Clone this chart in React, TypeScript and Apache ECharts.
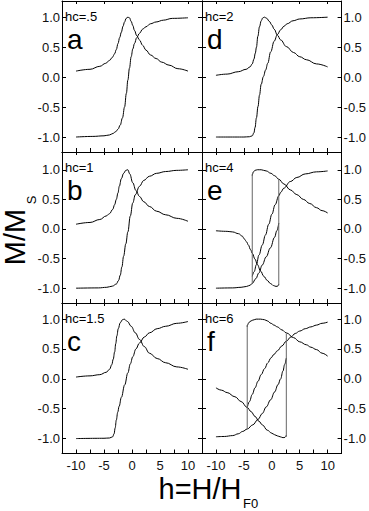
import React, { useEffect, useRef } from 'react';
import * as echarts from 'echarts';

const FONT = '"Liberation Sans", Arial, Helvetica, sans-serif';

// tick / label values
const X_TICKS = [-10, -7.5, -5, -2.5, 0, 2.5, 5, 7.5, 10];
const X_LABELS = [-10, -5, 0, 5, 10];
const Y_TICKS = [-1, -0.5, 0, 0.5, 1];

const PANEL_LETTERS = ['a', 'b', 'c', 'd', 'e', 'f'];
const HC_LABELS = ['hc=.5', 'hc=1', 'hc=1.5', 'hc=2', 'hc=4', 'hc=6'];

// panel a (hc = 0.5)
const aM = [[-10, -1], [-7, -0.99], [-5, -0.98], [-4, -0.965], [-3.4, -0.94], [-2.9, -0.91], [-2.5, -0.87], [-2.1, -0.8], [-1.7, -0.68], [-1.33, -0.5], [-1.0, -0.27], [-0.74, -0.05], [-0.45, 0.15], [-0.15, 0.34], [0.15, 0.47], [0.44, 0.56], [0.85, 0.66], [1.33, 0.73], [1.9, 0.8], [2.5, 0.84], [3.3, 0.89], [4.3, 0.92], [5.6, 0.95], [7.2, 0.98], [10, 0.99]];
const aP = [[-10, 0.1], [-7.5, 0.13], [-5.75, 0.18], [-4.7, 0.23], [-4, 0.28], [-3.5, 0.33], [-3.1, 0.39], [-2.8, 0.46], [-2.5, 0.56], [-2.2, 0.66], [-1.9, 0.75], [-1.6, 0.85], [-1.33, 0.92], [-1.05, 0.98], [-0.74, 1.0], [-0.45, 0.99], [-0.15, 0.93], [0.15, 0.86], [0.44, 0.78], [0.85, 0.69], [1.33, 0.62], [1.9, 0.53], [2.5, 0.45], [3.3, 0.37], [4.3, 0.31], [5.3, 0.25], [6.6, 0.2], [8.2, 0.14], [10, 0.1]];

// panel b (hc = 1)
const bM = [[-10, -1], [-6, -0.995], [-4.5, -0.985], [-3.5, -0.965], [-2.8, -0.93], [-2.4, -0.87], [-2.1, -0.78], [-1.8, -0.64], [-1.5, -0.46], [-1.1, -0.25], [-0.74, -0.05], [-0.3, 0.22], [0.14, 0.44], [0.6, 0.58], [1.33, 0.72], [2.1, 0.82], [3.1, 0.89], [4.4, 0.94], [6, 0.97], [8, 0.99], [10, 1]];
const bP = [[-10, 0.08], [-7.5, 0.11], [-5.75, 0.16], [-4.6, 0.22], [-4, 0.26], [-3.45, 0.33], [-3.1, 0.41], [-2.8, 0.5], [-2.5, 0.61], [-2.27, 0.72], [-1.9, 0.85], [-1.5, 0.94], [-1.1, 0.99], [-0.74, 1.0], [-0.4, 0.93], [0.14, 0.78], [0.7, 0.65], [1.33, 0.55], [2.1, 0.46], [3.1, 0.38], [4.4, 0.3], [6, 0.24], [8, 0.18], [10, 0.13]];

// panel c (hc = 1.5)
const cM = [[-10, -1], [-5, -0.995], [-4, -0.99], [-3.45, -0.97], [-3.2, -0.92], [-3.0, -0.82], [-2.8, -0.69], [-2.55, -0.56], [-2.3, -0.46], [-1.9, -0.31], [-1.3, -0.1], [-0.74, 0.1], [-0.3, 0.25], [0.14, 0.37], [0.7, 0.5], [1.33, 0.6], [2.2, 0.7], [3.1, 0.77], [4.5, 0.84], [6, 0.88], [8, 0.93], [10, 0.96]];
const cP = [[-10, 0.03], [-7.5, 0.05], [-5.75, 0.07], [-4.6, 0.11], [-4, 0.16], [-3.6, 0.24], [-3.35, 0.33], [-3.1, 0.45], [-2.9, 0.59], [-2.7, 0.72], [-2.45, 0.84], [-2.1, 0.94], [-1.7, 0.99], [-1.4, 1.0], [-0.8, 0.96], [-0.15, 0.88], [0.6, 0.77], [1.33, 0.66], [2.2, 0.54], [3.1, 0.43], [4.5, 0.34], [6, 0.27], [8, 0.2], [10, 0.16]];

// panel d (hc = 2)
const dM = [[-10, -1], [-5, -1], [-4, -0.995], [-3.5, -0.98], [-3.2, -0.93], [-3.0, -0.84], [-2.75, -0.68], [-2.47, -0.49], [-2.2, -0.3], [-1.9, -0.12], [-1.5, 0.01], [-1.1, 0.12], [-0.73, 0.23], [-0.2, 0.42], [0.43, 0.6], [1.0, 0.71], [1.59, 0.79], [2.2, 0.85], [2.75, 0.89], [3.8, 0.94], [5, 0.97], [7, 0.99], [10, 1.0]];
const dP = [[-10, 0.03], [-8, 0.05], [-6, 0.09], [-4.6, 0.13], [-3.9, 0.17], [-3.5, 0.22], [-3.2, 0.3], [-2.95, 0.4], [-2.75, 0.5], [-2.5, 0.68], [-2.2, 0.84], [-1.9, 0.94], [-1.6, 0.99], [-1.3, 1.0], [-0.9, 0.98], [-0.44, 0.93], [0.0, 0.87], [0.43, 0.8], [1.0, 0.7], [1.59, 0.62], [2.6, 0.51], [3.9, 0.41], [5, 0.34], [6.2, 0.29], [8, 0.22], [10, 0.17]];

// panel e (hc = 4): increasing / decreasing field branches and jumps [x, yFrom, yTo]
const eMup = [[-10, -1], [-7, -0.995], [-5.5, -0.985], [-4.5, -0.97], [-3.9, -0.95], [-3.5, -0.92], [-2.87, -0.84], [-2.3, -0.74], [-1.72, -0.61], [-1.0, -0.47], [-0.26, -0.32], [0.5, -0.14], [0.9, -0.03], [1.25, 0.1]];
const eMdown = [[10, 0.98], [8, 0.965], [6, 0.93], [4.49, 0.87], [3.3, 0.8], [2.17, 0.69], [1.6, 0.62], [1.25, 0.56], [0.6, 0.41], [0.02, 0.25], [-0.55, 0.08], [-1.13, -0.1], [-1.7, -0.27], [-2.3, -0.44], [-2.75, -0.6], [-3.16, -0.72], [-3.5, -0.8]];
const ePup = [[-10, -0.03], [-8, -0.04], [-7, -0.05], [-5.95, -0.08], [-5.3, -0.12], [-4.9, -0.17], [-4.5, -0.22], [-4.2, -0.27], [-3.8, -0.35], [-3.5, -0.41], [-3.0, -0.51], [-2.59, -0.6], [-2.0, -0.71], [-1.43, -0.8], [-0.8, -0.87], [-0.26, -0.92], [0.3, -0.955], [0.75, -0.97], [1.05, -0.965], [1.25, -0.93]];
const ePdown = [[10, 0.27], [9, 0.31], [8, 0.36], [6.8, 0.43], [5.65, 0.5], [4.49, 0.58], [3.32, 0.66], [2.17, 0.76], [1.25, 0.84], [0.5, 0.9], [-0.16, 0.94], [-1.0, 0.98], [-1.9, 1.0], [-2.6, 1.0], [-3.0, 0.99], [-3.3, 0.965], [-3.45, 0.93], [-3.5, 0.9]];
const eJumps = [[-3.5, 0.92, -0.93], [1.25, -0.95, 0.84]];

// panel f (hc = 6)
const fMup = [[-10, -0.97], [-8.5, -0.965], [-7, -0.95], [-6, -0.92], [-5.2, -0.88], [-4.4, -0.84], [-3.4, -0.77], [-2.47, -0.68], [-1.7, -0.58], [-1, -0.47], [-0.2, -0.35], [0.5, -0.22], [1.1, -0.1], [1.58, 0.0], [2.0, 0.13], [2.3, 0.24], [2.6, 0.35]];
const fMdown = [[10, 0.95], [9, 0.93], [8, 0.9], [7, 0.87], [6, 0.84], [5, 0.8], [4.2, 0.76], [3.4, 0.7], [2.6, 0.63], [1.8, 0.55], [1, 0.47], [0.4, 0.41], [-0.16, 0.35], [-0.7, 0.27], [-1.3, 0.17], [-1.9, 0.07], [-2.47, -0.04], [-3.0, -0.15], [-3.5, -0.26], [-4.0, -0.38], [-4.4, -0.48]];
const fPup = [[-10, -0.15], [-9, -0.19], [-8, -0.23], [-6.6, -0.3], [-5.5, -0.38], [-4.4, -0.48], [-3.7, -0.55], [-3, -0.63], [-2.3, -0.71], [-1.7, -0.77], [-0.8, -0.86], [0, -0.91], [0.5, -0.935], [1.0, -0.955], [1.5, -0.97], [2.0, -0.985], [2.35, -0.98], [2.55, -0.96], [2.6, -0.94]];
const fPdown = [[10, 0.38], [9, 0.43], [8, 0.49], [7, 0.53], [6.2, 0.57], [5, 0.62], [3.9, 0.69], [2.6, 0.77], [1.8, 0.82], [1, 0.87], [0.4, 0.9], [-0.16, 0.93], [-0.8, 0.97], [-1.3, 0.99], [-2, 1.0], [-2.8, 1.0], [-3.5, 0.98], [-3.9, 0.96], [-4.2, 0.93], [-4.35, 0.9], [-4.4, 0.87]];
const fJumps = [[-4.4, 0.9, -0.84], [2.6, -0.97, 0.76]];

const PANEL_CURVES = [[aM, aP], [bM, bP], [cM, cP], [dM, dP], [eMup, eMdown, ePup, ePdown], [fMup, fMdown, fPup, fPdown]];
const PANEL_JUMPS = [[], [], [], [], eJumps, fJumps];

// layout (positions only)
const COLS = [{ left: 62, width: 140 }, { left: 202, width: 142 }];
const ROWS = [{ top: 1, height: 151, max: 1.27 }, { top: 152, height: 151, max: 1.3 }, { top: 303, height: 150.5, max: 1.27 }];

export default function App() {
  const ref = useRef<HTMLDivElement>(null);
  useEffect(() => {
    const chart = echarts.init(ref.current!, null, { renderer: 'svg' });
    const grid: any[] = [];
    const xAxis: any[] = [];
    const yAxis: any[] = [];
    const series: any[] = [];
    const graphic: any[] = [];
    const ls = { color: '#000', width: 1 };

    for (let i = 0; i < 6; i++) {
      const col = i < 3 ? 0 : 1;
      const row = i % 3;
      const c = COLS[col];
      const r = ROWS[row];
      grid.push({ left: c.left, top: r.top, width: c.width, height: r.height });
      xAxis.push({
        gridIndex: i, type: 'value', position: 'bottom', min: -12.5, max: 12.5,
        axisLine: { show: true, onZero: false, lineStyle: ls },
        axisTick: { show: true, inside: true, length: 4, customValues: X_TICKS, lineStyle: ls },
        axisLabel: { show: row === 2, customValues: X_LABELS, fontSize: 13, color: '#111', margin: 5, fontFamily: FONT, formatter: (v: number) => String(v) },
        splitLine: { show: false },
      });
      xAxis.push({
        gridIndex: i, type: 'value', position: 'top', min: -12.5, max: 12.5,
        axisLine: { show: true, onZero: false, lineStyle: ls },
        axisTick: { show: true, inside: true, length: 3, customValues: X_LABELS, lineStyle: ls },
        axisLabel: { show: false },
        splitLine: { show: false },
      });
      yAxis.push({
        gridIndex: i, type: 'value', position: 'left', min: -1.25, max: r.max,
        axisLine: { show: true, onZero: false, lineStyle: ls },
        axisTick: { show: true, inside: true, length: 4, customValues: Y_TICKS, lineStyle: ls },
        axisLabel: { show: col === 0, customValues: Y_TICKS, fontSize: 13, color: '#111', margin: 2, fontFamily: FONT, formatter: (v: number) => v.toFixed(1) },
        splitLine: { show: false },
      });
      yAxis.push({
        gridIndex: i, type: 'value', position: 'right', min: -1.25, max: r.max,
        axisLine: { show: true, onZero: false, lineStyle: ls },
        axisTick: { show: true, inside: true, length: 4, customValues: Y_TICKS, lineStyle: ls },
        axisLabel: { show: col === 1, customValues: Y_TICKS, fontSize: 13, color: '#111', margin: 2, fontFamily: FONT, formatter: (v: number) => v.toFixed(1) },
        splitLine: { show: false },
      });
      PANEL_CURVES[i].forEach((d) => {
        series.push({
          type: 'line', xAxisIndex: 2 * i, yAxisIndex: 2 * i, data: d,
          symbol: 'none', showSymbol: false, smooth: 0.4, smoothMonotone: 'x', silent: true,
          lineStyle: { color: '#000', width: 1 },
        });
      });
      PANEL_JUMPS[i].forEach((j) => {
        series.push({
          type: 'line', xAxisIndex: 2 * i, yAxisIndex: 2 * i, data: [[j[0], j[1]], [j[0], j[2]]],
          symbol: 'none', showSymbol: false, silent: true,
          lineStyle: { color: '#666', width: 1 },
        });
      });
      graphic.push({
        type: 'text', left: c.left + 3, top: r.top + 9,
        style: { text: HC_LABELS[i], font: `13px ${FONT}`, fill: '#000' },
      });
      graphic.push({
        type: 'text', left: c.left + 5, top: r.top + 24,
        style: { text: PANEL_LETTERS[i], font: `28px ${FONT}`, fill: '#000' },
      });
    }

    graphic.push({
      type: 'text', x: 15, y: 237, rotation: Math.PI / 2,
      style: { text: 'M/M', font: `29px ${FONT}`, fill: '#000', align: 'center', verticalAlign: 'middle' },
    });
    graphic.push({
      type: 'text', x: 31, y: 200, rotation: Math.PI / 2,
      style: { text: 'S', font: `13px ${FONT}`, fill: '#000', align: 'center', verticalAlign: 'middle' },
    });
    graphic.push({
      type: 'text', x: 200, y: 489,
      style: { text: 'h=H/H', font: `29px ${FONT}`, fill: '#000', align: 'center', verticalAlign: 'middle' },
    });
    graphic.push({
      type: 'text', x: 243, y: 503,
      style: { text: 'F0', font: `13px ${FONT}`, fill: '#000', align: 'left', verticalAlign: 'middle' },
    });

    chart.setOption({ animation: false, backgroundColor: '#fff', grid, xAxis, yAxis, series, graphic });
    return () => chart.dispose();
  }, []);
  return <div ref={ref} style={{ position: 'absolute', left: 0, top: 0, width: 369, height: 511 }} />;
}
